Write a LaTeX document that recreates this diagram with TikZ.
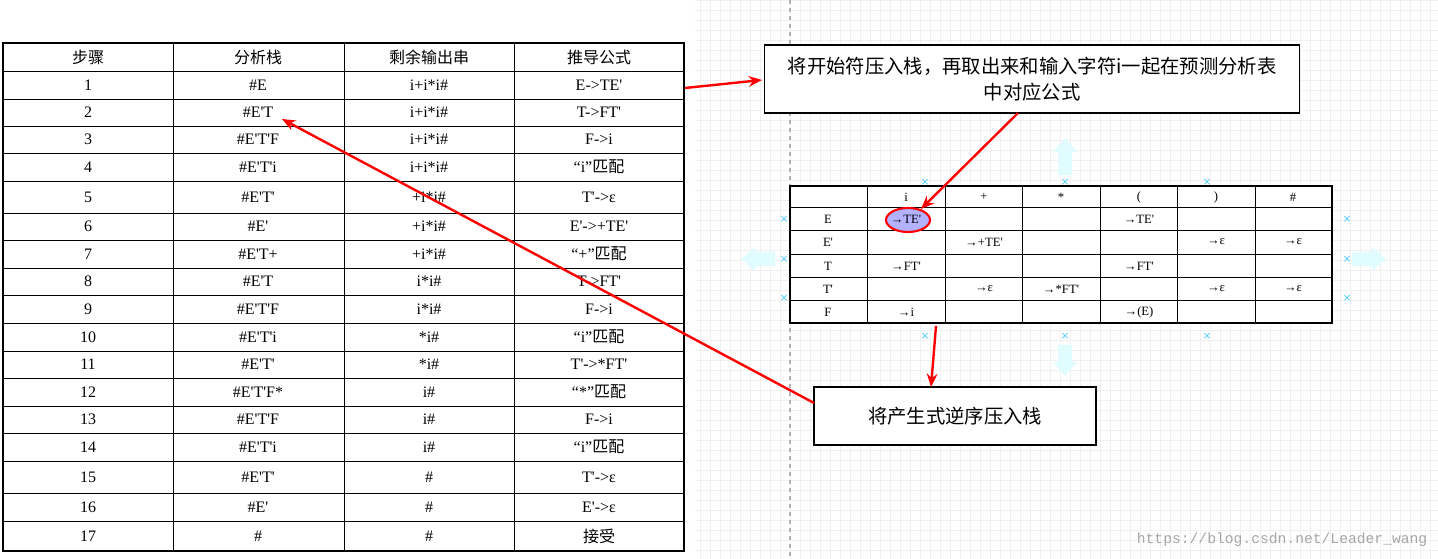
\documentclass[tikz,border=0pt]{standalone}
\usepackage{fontspec}
\setmainfont{Liberation Serif}[Ligatures=TeXOff]
\newfontfamily\cjk{Noto Sans CJK SC}
\newfontfamily\wm{Liberation Mono}
\newfontfamily\dv{DejaVu Sans}
\usetikzlibrary{arrows.meta}
\begin{document}
\begin{tikzpicture}[x=0.75pt,y=-0.75pt,
  cell/.style={font=\fontsize{12}{14}\selectfont},
  rcell/.style={font=\fontsize{9.5}{11}\selectfont},
  box/.style={draw=black,line width=0.8pt,fill=white,align=center,font=\cjk\fontsize{14.5}{19}\selectfont},
  redarrow/.style={draw=red,line width=1.8pt,-{Stealth[length=10pt,width=8pt]}},
  xmark/.style={text=blue!30!cyan!70,font=\dv\fontsize{8}{8}\selectfont},
  ghost/.style={fill=blue!10!cyan!12,draw=none}]
\useasboundingbox (0,0) rectangle (1438,559);
\fill[white] (0,0) rectangle (1438,559);
% grid
\begin{scope}
\clip (695,0) rectangle (1438,559);
\foreach \x in {700,710,...,1438} \draw[black!6,line width=0.4pt] (\x,0) -- (\x,559);
\foreach \y in {0,10,...,559} \draw[black!6,line width=0.4pt] (695,\y) -- (1438,\y);
\end{scope}
\draw[black!30,dashed,line width=0.8pt] (790,0) -- (790,559);
% left table
\fill[white] (3,43) rectangle (684,551);
\foreach \y in {71,99,126,153,181,213,240,268,295,323,351,378,406,433,461,493,521}
  \draw[black,line width=0.6pt] (3,\y) -- (684,\y);
\draw[black,line width=0.8pt] (3,43) rectangle (684,551);
\foreach \x in {173,344,514} \draw[black,line width=0.6pt] (\x,43) -- (\x,551);
\node[cell] (h1) at (88,57) {\cjk 步骤};
\node[cell] (h2) at (258,57) {\cjk 分析栈};
\node[cell] (h3) at (429,57) {\cjk 剩余输出串};
\node[cell] (h4) at (599,57) {\cjk 推导公式};
\foreach \n/\yy/\a/\b/\c in {
 1/85/{\#E}/{i+i*i\#}/{E->TE'},
 2/112/{\#E'T}/{i+i*i\#}/{T->FT'},
 3/139/{\#E'T'F}/{i+i*i\#}/{F->i},
 4/167/{\#E'T'i}/{i+i*i\#}/{“i”{\cjk 匹配}},
 5/197/{\#E'T'}/{+i*i\#}/{T'->ε},
 6/226/{\#E'}/{+i*i\#}/{E'->+TE'},
 7/254/{\#E'T+}/{+i*i\#}/{“+”{\cjk 匹配}},
 8/281/{\#E'T}/{i*i\#}/{T->FT'},
 9/309/{\#E'T'F}/{i*i\#}/{F->i},
 10/337/{\#E'T'i}/{*i\#}/{“i”{\cjk 匹配}},
 11/364/{\#E'T'}/{*i\#}/{T'->*FT'},
 12/392/{\#E'T'F*}/{i\#}/{“*”{\cjk 匹配}},
 13/419/{\#E'T'F}/{i\#}/{F->i},
 14/447/{\#E'T'i}/{i\#}/{“i”{\cjk 匹配}},
 15/477/{\#E'T'}/{\#}/{T'->ε},
 16/507/{\#E'}/{\#}/{E'->ε},
 17/536/{\#}/{\#}/{{\cjk 接受}}} {
  \node[cell] (s\n) at (88,\yy) {\n};
  \node[cell] (k\n) at (258,\yy) {\a};
  \node[cell] (r\n) at (429,\yy) {\b};
  \node[cell] (f\n) at (599,\yy) {\c};
}
% ghost arrows
\fill[ghost] (1058,175) -- (1058,152) -- (1053,152) -- (1065,138) -- (1077,152) -- (1072,152) -- (1072,175) -- cycle;
\fill[ghost] (1058,345) -- (1058,362) -- (1053,362) -- (1065,376) -- (1077,362) -- (1072,362) -- (1072,345) -- cycle;
\fill[ghost] (775,252) -- (755,252) -- (755,247) -- (741,259) -- (755,271) -- (755,266) -- (775,266) -- cycle;
\fill[ghost] (1352,252) -- (1372,252) -- (1372,247) -- (1386,259) -- (1372,271) -- (1372,266) -- (1352,266) -- cycle;
% markers
\foreach \p in {(925,182),(1065,182),(1207,182),(925,336),(1065,336),(1207,336),(784,219),(784,298),(784,259),(1347,219),(1347,259),(1347,298)}
  \node[xmark] at \p {×};
% right table
\fill[white] (790,186) rectangle (1332,323);
\foreach \y in {207,230,254,277,300} \draw[black,line width=0.6pt] (790,\y) -- (1332,\y);
\foreach \x in {867,945,1022,1100,1177,1255} \draw[black,line width=0.5pt] (\x,186) -- (\x,323);
\draw[black,line width=0.8pt] (790,186) rectangle (1332,323);
\fill[blue!30,draw=red,line width=1.6pt] (908,220) ellipse (22 and 12);
\foreach \c/\xx/\t in {0/828/{},1/906/i,2/984/+,3/1061/*,4/1139/(,5/1216/),6/1293/\#}
  \node[rcell] (p0\c) at (\xx,197) {\t};
\foreach \r/\yy/\a/\b/\cc/\d/\e/\f/\g in {
 1/219/E/{→TE'}/{}/{}/{→TE'}/{}/{},
 2/242/E'/{}/{→+TE'}/{}/{}/{→ε}/{→ε},
 3/266/T/{→FT'}/{}/{}/{→FT'}/{}/{},
 4/289/T'/{}/{→ε}/{→*FT'}/{}/{→ε}/{→ε},
 5/312/F/{→i}/{}/{}/{→(E)}/{}/{}} {
  \node[rcell] (p\r0) at (828,\yy) {\a};
  \node[rcell] (p\r1) at (906,\yy) {\b};
  \node[rcell] (p\r2) at (984,\yy) {\cc};
  \node[rcell] (p\r3) at (1061,\yy) {\d};
  \node[rcell] (p\r4) at (1139,\yy) {\e};
  \node[rcell] (p\r5) at (1216,\yy) {\f};
  \node[rcell] (p\r6) at (1293,\yy) {\g};
}
% boxes
\node[box,minimum width=535*0.75pt,minimum height=68*0.75pt] (b1) at (1032,79)
  {将开始符压入栈，再取出来和输入字符i一起在预测分析表\\中对应公式};
\node[box,minimum width=282*0.75pt,minimum height=58*0.75pt] (b2) at (955,416) {将产生式逆序压入栈};
% arrows
\coordinate (a1s) at (685,88);
\coordinate (a1e) at (762,80);
\coordinate (a2s) at (1018,113);
\coordinate (a2e) at (921,209);
\coordinate (a3s) at (936,326);
\coordinate (a3e) at (931,387);
\coordinate (a4s) at (814,403);
\coordinate (a4e) at (282,119);
\draw[redarrow] (a1s) -- (a1e);
\draw[redarrow] (a2s) -- (a2e);
\draw[redarrow] (a3s) -- (a3e);
\draw[redarrow] (a4s) -- (a4e);
\node[text=black!35,font=\wm\fontsize{11}{13}\selectfont,anchor=east] (wm) at (1432,540) {https://blog.csdn.net/Leader\_wang};
\end{tikzpicture}
\end{document}
